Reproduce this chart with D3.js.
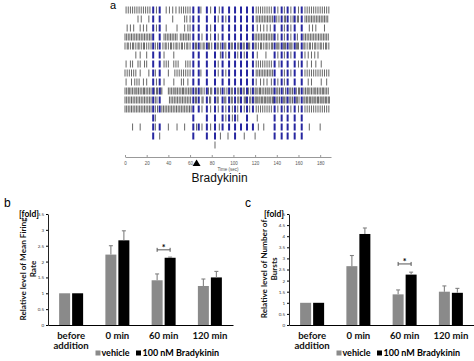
<!DOCTYPE html>
<html><head><meta charset="utf-8">
<script src="https://cdn.jsdelivr.net/npm/d3@7"></script>
<style>body{margin:0;background:#fff}svg{display:block}</style>
</head><body>
<svg id="c" width="474" height="361"></svg>
<script>
// ---------- DATA ----------
const burstTimes = [26,32,63,68,75.5,83,90,96,101.5,107,112.5,118,138,144.5,150,156.5,163];
const rowBurstMask = [
 "11111111111111111","11111111111111111","11111111111111111","11111111111111111",
 "11111111111111111","11111111111111111","11111111111111111","11111111111111111",
 "11111111111111111","11111111111111111","11111111111111111","11111111111111111",
 "10101111101011111","11111111111111111","10101100100011111","00000000000000000"];
const rowGray = [
 [1,3,5,7,9,11,13,15,17,19,21,23,29,38,41,44,47,50,52,54,56,58,60,70,79,87,121,123,125,127,129,131,133,135,141,147,153,160,166,168,170,172,174,176,178,180,182,184,186,188],
 [12,15,22,44,55,57,60,86,93,121,122.5,124,125.5,127,128.5,130,131.5,133,134.5,136,140,142,147,148,153,155,159,160,166,167.5,169,170.5,172,173.5,175,176.5,178,179.5,181,182.5,184,185.5,187],
 [2,5,8,14,17,20,29,38,48,55,58,60,79,122,125,128,131,134,147,153,170,173,176,184],
 [0,1.5,3,4.5,6,7.5,9,10.5,12,13.5,15,16.5,18,19.5,21,22.5,24,36,37.5,39,40.5,42,43.5,45,46.5,48,51,52.5,54,55.5,57,58.5,60,71,79,86,120,121.5,123,124.5,126,127.5,129,130.5,132,133.5,135,136.5,141,147,153,159,165,166.5,168,169.5,171,172.5,174,175.5,177,178.5,180,181.5,183,184.5,186,187.5],
 [0,2,3,5,7,8,10,12,13,15,17,18,20,22,24,28,30,35,37,38,40,42,43,45,47,48,50,52,53,55,57,58,60,65,66,70,72,73,77,78,80,85,86,88,92,93,98,99,104,105,109,110,114,115,120,121,123,125,126,128,130,131,133,135,136,140,141,142,146,147,148,152,153,154,158,159,160,165,166,168,170,171,173,175,176,178,180,181,183,185,186,188],
 [10,14,20,36,45,88,93,104,110,122,130,141,147,153,166,169,172,175,178],
 [1,5,7,12,14,18,20,36,38,40,45,47,49,56,58,60,86,121,123,125,127,129,131,133,135,142,160,168,172,176,181],
 [0,2,4,6,8,10,14,22,28,40,46,48,50,52,54,56,58,60,70,86,93,121,122.5,124,125.5,127,128.5,130,131.5,133,134.5,136,147,153,166,168,170,172,174,176,178,180,182,184,186,188],
 [1,6,9,11,13,17,20,29,36,45,52,54,58,121,125,128,131,135,141,147,169,172,181,186],
 [0,1.5,3,4,5.5,7,8.5,10,11,12.5,14,15.5,17,18,19.5,21,22.5,24,27,29,30,33,34,40,41.5,43,44.5,46,47,48.5,50,51.5,53,54,55.5,57,58.5,60,61,65,66,70,71,73,77,79,80,85,86,88,92,94,98,99,104,105,109,110,114,116,120,121,122.5,124,125,126.5,128,129.5,131,132,133.5,135,136.5,140,141,142.5,146,148,152,153,154.5,158,160,161,165,166.5,168,169,170.5,172,173.5,175,176,177.5,179,180.5,182,183,184.5,186,187.5],
 [0,1.5,3,4.5,6,7.5,9,10.5,12,13.5,15,16.5,18,19.5,21,22.5,24,28,29.5,41,42.5,44,45.5,47,48.5,50,51.5,53,54.5,56,57.5,59,60.5,65,66,71,72,78,79,85,86,92,93,98,99,104,105,110,111,115,116,120,121,122,123.5,124.5,126,127,128.5,129.5,131,132,133.5,134.5,136,137,140,141,142.5,146,147,148.5,152,153,154.5,158,159,160.5,165,166,167.5,168.5,170,171,172.5,173.5,175,176,177.5,178.5,180,181,182.5,183.5,185,186,187.5,188.5],
 [0,1.5,3,4.5,6,7.5,9,10.5,12,13.5,15,16.5,18,19.5,21,22.5,24,28,30,34,35.5,37,38.5,40,41.5,43,44.5,46,47.5,49,50.5,52,53.5,55,56.5,58,59.5,61,71,79,86,93,99,104,110,115,121,123,125,127,129,131,133,135,141,147,153,160,166,168,170,172,174,176,178,180,182,184,186,188],
 [28,93,99,104,122],
 [7,14,28,40,48,55,66,71,79,87,123,128,170,180],
 [32,88,95,110,120],
 [83]
];
const timeTicks = [0,20,40,60,80,100,120,140,160,180];
const bradykininTime = 66;

const categories = ["before addition","0 min","60 min","120 min"];
const seriesNames = ["vehicle","100 nM Bradykinin"];
const firingVehicle    = [1, 2.22, 1.41, 1.23];
const firingVehicleErr = [0, 0.28, 0.20, 0.22];
const firingBrady      = [1, 2.67, 2.12, 1.50];
const firingBradyErr   = [0, 0.30, 0.02, 0.19];
const firingTicks = [0,0.5,1,1.5,2,2.5,3,3.5];
const firingSig = 2.37;

const burstsVehicle    = [1, 2.65, 1.38, 1.50];
const burstsVehicleErr = [0, 0.48, 0.20, 0.26];
const burstsBrady      = [1, 4.10, 2.27, 1.45];
const burstsBradyErr   = [0, 0.27, 0.11, 0.20];
const burstTicks = [0,0.5,1,1.5,2,2.5,3,3.5,4,4.5,5];
const burstsSig = 2.75;

// ---------- RASTER ----------
const svg = d3.select("#c");
const rasterX = d3.scaleLinear().domain([0,190]).range([125,331]);
const rowY = d3.scaleLinear().domain([0,15]).range([10,145]);
const spikeH = 7;
const gR = svg.append("g");
rowGray.forEach((spikes,i)=>{
  gR.append("g").selectAll("line").data(spikes).enter().append("line")
    .attr("x1",d=>rasterX(d)).attr("x2",d=>rasterX(d))
    .attr("y1",rowY(i)-spikeH/2).attr("y2",rowY(i)+spikeH/2)
    .attr("stroke","#404040").attr("stroke-width",0.8);
});
rowBurstMask.forEach((mask,i)=>{
  const t = burstTimes.filter((b,j)=>mask[j]==="1");
  gR.append("g").selectAll("line").data(t).enter().append("line")
    .attr("x1",d=>rasterX(d)).attr("x2",d=>rasterX(d))
    .attr("y1",rowY(i)-spikeH/2).attr("y2",rowY(i)+spikeH/2)
    .attr("stroke","#2626a0").attr("stroke-width",2);
});
const tAxis = svg.append("g").attr("transform","translate(0,157)")
  .call(d3.axisBottom(rasterX).tickValues(timeTicks).tickSizeInner(-2).tickSizeOuter(0).tickPadding(5));
tAxis.select(".domain").attr("stroke","#999");
tAxis.selectAll(".tick line").attr("stroke","#999");
tAxis.selectAll("text").attr("font-size","4.5px").attr("fill","#555").attr("font-family","Liberation Sans, Arial, sans-serif");
svg.append("text").attr("x",rasterX(95)).attr("y",171).attr("text-anchor","middle")
  .attr("font-size","4.5px").attr("fill","#555").attr("font-family","Liberation Sans, Arial, sans-serif").text("Time (sec)");
const tx = rasterX(bradykininTime);
svg.append("path").attr("d",`M${tx},159.5L${tx+4},166L${tx-4},166Z`).attr("fill","#000");
svg.append("text").attr("x",tx-5).attr("y",182).attr("font-size","12px")
  .attr("font-family","Liberation Sans, Arial, sans-serif").attr("fill","#111").text("Bradykinin");
svg.append("text").attr("x",110).attr("y",9).attr("font-size","11px")
  .attr("font-family","Liberation Sans, Arial, sans-serif").text("a");

// ---------- BAR PANELS ----------
const FONT = "Lato, Carlito, Calibri, sans-serif";
function panel(ox, label, vV, vE, bV, bE, ticks, ymax, titleLines, sig){
  const g = svg.append("g").attr("transform",`translate(${ox},0)`);
  const y = d3.scaleLinear().domain([0,ymax]).range([325,214]);
  const x0 = d3.scaleBand().domain(categories).range([48,233]);
  const x1 = d3.scaleBand().domain(seriesNames).range([0,x0.bandwidth()]).paddingInner(0.154).paddingOuter(0.856);
  const data = categories.map((c,i)=>({c, vals:[
    {s:seriesNames[0], v:vV[i], e:vE[i], col:"#8a8a8a"},
    {s:seriesNames[1], v:bV[i], e:bE[i], col:"#000"}]}));
  const grp = g.selectAll(".cat").data(data).enter().append("g")
    .attr("transform",d=>`translate(${x0(d.c)},0)`);
  grp.selectAll("rect").data(d=>d.vals).enter().append("rect")
    .attr("x",d=>x1(d.s)).attr("width",x1.bandwidth())
    .attr("y",d=>y(d.v)).attr("height",d=>y(0)-y(d.v)).attr("fill",d=>d.col);
  const eb = grp.selectAll(".eb").data(d=>d.vals.filter(v=>v.e>0)).enter().append("g");
  eb.append("line").attr("x1",d=>x1(d.s)+x1.bandwidth()/2).attr("x2",d=>x1(d.s)+x1.bandwidth()/2)
    .attr("y1",d=>y(d.v)).attr("y2",d=>y(d.v+d.e)).attr("stroke","#808080").attr("stroke-width",1.1);
  eb.append("line").attr("x1",d=>x1(d.s)+x1.bandwidth()/2-2).attr("x2",d=>x1(d.s)+x1.bandwidth()/2+2)
    .attr("y1",d=>y(d.v+d.e)).attr("y2",d=>y(d.v+d.e)).attr("stroke","#808080").attr("stroke-width",1.1);
  // axes
  const ya = g.append("g").attr("transform","translate(48,0)")
    .call(d3.axisLeft(y).tickValues(ticks).tickSizeInner(2).tickSizeOuter(0).tickPadding(2).tickFormat(String));
  ya.select(".domain").attr("stroke","#222");
  ya.selectAll("text").attr("font-size","4.5px").attr("fill","#333").attr("font-family",FONT);
  const xa = g.append("g").attr("transform","translate(0,325)")
    .call(d3.axisBottom(x0).tickSize(0).tickFormat(""));
  xa.select(".domain").attr("stroke","#000").attr("stroke-width",1.2);
  // category labels
  categories.forEach(c=>{
    const parts = c==="before addition" ? ["before","addition"] : [c];
    parts.forEach((p,k)=>g.append("text").attr("x",x0(c)+x0.bandwidth()/2).attr("y",339+k*10)
      .attr("text-anchor","middle").attr("font-size","9.6px").attr("font-weight","bold").attr("font-family",FONT).attr("fill","#111").text(p));
  });
  // significance
  const cx1 = x0(categories[2])+x1(seriesNames[0])+x1.bandwidth()/2;
  const cx2 = x0(categories[2])+x1(seriesNames[1])+x1.bandwidth()/2;
  g.append("path").attr("d",`M${cx1},${y(sig)-2}V${y(sig)+2}M${cx1},${y(sig)}H${cx2}M${cx2},${y(sig)-2}V${y(sig)+2}`)
    .attr("stroke","#555").attr("fill","none").attr("stroke-width",1);
  g.append("text").attr("x",(cx1+cx2)/2).attr("y",y(sig)+1.5).attr("text-anchor","middle")
    .attr("font-size","9px").attr("font-family",FONT).attr("font-weight","bold").text("*");
  // labels
  g.append("text").attr("x",4).attr("y",207).attr("font-size","12px").attr("font-family","Liberation Sans, Arial, sans-serif").text(label);
  g.append("text").attr("x",label==="c"?23:19).attr("y",217).attr("font-size","8.5px").attr("font-weight","bold").attr("font-family",FONT).text("[fold]");
  titleLines.forEach((t,k)=>{
    g.append("text").attr("transform",`translate(${25.5+k*10.5},269) rotate(-90)`)
      .attr("text-anchor","middle").attr("font-size","8.2px").attr("font-weight","bold").attr("font-family",FONT).attr("fill","#111").text(t);
  });
  // legend
  g.append("rect").attr("x",95.5).attr("y",350.5).attr("width",5).attr("height",5).attr("fill","#8a8a8a");
  g.append("text").attr("x",101.5).attr("y",356).attr("font-size","9px").attr("font-weight","bold").attr("font-family",FONT).text(seriesNames[0]);
  g.append("rect").attr("x",136).attr("y",350.5).attr("width",5).attr("height",5).attr("fill","#000");
  g.append("text").attr("x",142.5).attr("y",356).attr("font-size","9px").attr("font-weight","bold").attr("font-family",FONT).text(seriesNames[1]);
}
panel(0,"b",firingVehicle,firingVehicleErr,firingBrady,firingBradyErr,firingTicks,3.5,["Relative level of Mean Firing","Rate"],firingSig);
panel(241,"c",burstsVehicle,burstsVehicleErr,burstsBrady,burstsBradyErr,burstTicks,5,["Relative level of Number of","Bursts"],burstsSig);
</script>
</body></html>
